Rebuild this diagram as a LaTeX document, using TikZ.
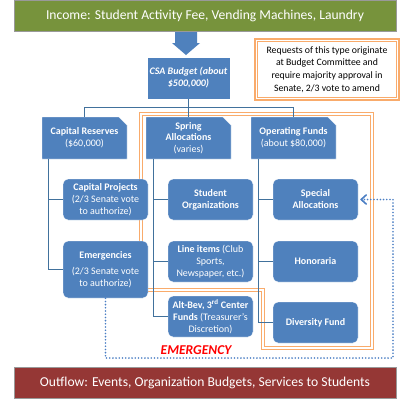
\documentclass[tikz,border=0pt]{standalone}
\usepackage{fontspec}
\setmainfont{Carlito}
\usetikzlibrary{shapes.misc}
\usetikzlibrary{arrows.meta}
\definecolor{boxblue}{HTML}{4F81BD}
\definecolor{lineblue}{HTML}{41719C}
\definecolor{dotblue}{HTML}{4A7EC4}
\definecolor{incgreen}{HTML}{77933C}
\definecolor{outred}{HTML}{953735}
\definecolor{noteorange}{HTML}{F79646}
\definecolor{emred}{HTML}{FF0000}

\begin{document}
\begin{tikzpicture}[x=1pt, y=-1pt,
  bar/.style={draw=gray!80, line width=1pt, text=white, minimum width=382pt, minimum height=31pt, font=\fontsize{13.6}{15}\selectfont},
  fund/.style={chamfered rectangle, chamfered rectangle corners=north east, chamfered rectangle xsep=5pt, fill=boxblue, draw=white, text=white, minimum width=85pt, minimum height=42pt, inner sep=1pt, align=center, font=\fontsize{10}{11.8}\selectfont},
  item/.style={rounded corners=5pt, fill=boxblue, draw=white, text=white, minimum width=85pt, minimum height=41pt, inner sep=1pt, align=center, font=\fontsize{10}{12}\selectfont},
  band/.style={draw=noteorange!80, line width=1.3pt, double=white, double distance=1.2pt},
  link/.style={lineblue, line width=0.8pt},
  emline/.style={dotblue, line width=1.8pt, line cap=round, dash pattern=on 0pt off 3.2pt}
]
\useasboundingbox (0,0) rectangle (400,400);
\fill[white] (0,0) rectangle (400,400);

% majority-approval region
\draw[band] (141,114) -- (372,114) -- (372,348) -- (263,348) -- (263,290) -- (141,290) -- cycle;

% income and outflow
\node[bar, fill=incgreen] (income) at (205,16) {Income: Student Activity Fee, Vending Machines, Laundry};
\node[bar, fill=outred] (outflow) at (205,382.5) {Outflow: Events, Organization Budgets, Services to Students};
\fill[boxblue] (175,32) -- (197,32) -- (197,43) -- (200,43) -- (186,55) -- (172,43) -- (175,43) -- cycle;

\node[fill=boxblue, draw=white, text=white, minimum width=83pt, minimum height=42pt, inner sep=1pt, align=center, font=\fontsize{10}{12}\selectfont\bfseries\itshape] (csa) at (188.5,78) {CSA Budget (about\\ \$500,000)};
\node[minimum width=141pt, minimum height=58pt, inner sep=1pt, align=center, font=\fontsize{9.8}{12.8}\selectfont] (note) at (327,69.5) {Requests of this type originate\\ at Budget Committee and\\ require majority approval in\\ Senate, 2/3 vote to amend};
\draw[band] (note.south west) rectangle (note.north east);

% funds
\node[fund] (capres) at (84.5,138) {\textbf{Capital Reserves}\\ (\$60,000)};
\node[fund] (spring) at (188.5,138) {\textbf{Spring}\\ \textbf{Allocations}\\ (varies)};
\node[fund] (opfund) at (293.5,138) {\textbf{Operating Funds}\\ (about \$80,000)};

% items
\node[item] (capproj) at (105.5,199.5) {\textbf{Capital Projects}\\ (2/3 Senate vote\\ to authorize)};
\node[item, minimum height=57pt] (emerg) at (105.5,269.5) {\textbf{Emergencies}\\[4pt] (2/3 Senate vote\\ to authorize)};
\node[item] (studorg) at (210.5,199.5) {\textbf{Student}\\ \textbf{Organizations}};
\node[item] (lineitem) at (210.5,261.5) {\textbf{Line items} (Club\\ Sports,\\ Newspaper, etc.)};
\node[item] (altbev) at (210.5,316.5) {\textbf{Alt-Bev, 3\textsuperscript{rd} Center}\\ \textbf{Funds} (Treasurer's\\ Discretion)};
\node[item] (special) at (315.5,199.5) {\textbf{Special}\\ \textbf{Allocations}};
\node[item] (honor) at (315.5,261.5) {\textbf{Honoraria}};
\node[item] (divfund) at (315.5,322.5) {\textbf{Diversity Fund}};

% tree links
\draw[link] (csa.south) -- ++(0,8) coordinate (hub);
\draw[link] (hub) -| (capres.north);
\draw[link] (hub) -| (spring.north);
\draw[link] (hub) -| (opfund.north);
\draw[link] ([xshift=7pt]capres.south west) |- (capproj.west);
\draw[link] ([xshift=7pt]capres.south west) |- (emerg.west);
\draw[link] ([xshift=8pt]spring.south west) |- (studorg.west);
\draw[link] ([xshift=8pt]spring.south west) |- (lineitem.west);
\draw[link] ([xshift=8pt]spring.south west) |- (altbev.west);
\draw[link] ([xshift=8pt]opfund.south west) |- (special.west);
\draw[link] ([xshift=8pt]opfund.south west) |- (honor.west);
\draw[link] ([xshift=8pt]opfund.south west) |- (divfund.west);

% emergency loop
\coordinate (loopR) at (393,358);
\draw[emline] (emerg.south) |- (loopR) |- ([xshift=3pt]special.east);
\draw[dotblue, line width=1.6pt, line cap=round, line join=round] ([xshift=8pt,yshift=4.5pt]special.east) -- ([xshift=3pt]special.east) -- ([xshift=8pt,yshift=-4.5pt]special.east);
\node[text=emred, font=\fontsize{13.5}{15}\selectfont\bfseries\itshape] (emlabel) at (196,350) {EMERGENCY};
\end{tikzpicture}
\end{document}
